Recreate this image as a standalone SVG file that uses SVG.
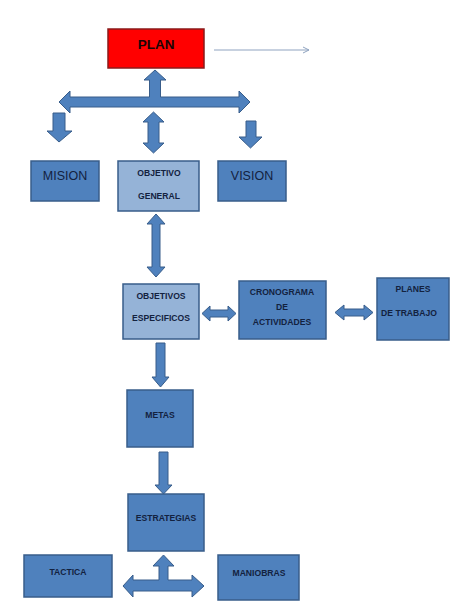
<svg xmlns="http://www.w3.org/2000/svg" width="474" height="612" viewBox="0 0 474 612">
<defs>
<marker id="thin" markerWidth="8" markerHeight="8" refX="7" refY="4" orient="auto" markerUnits="userSpaceOnUse">
<path d="M1,1 L7,4 L1,7" fill="none" stroke="#8fa3c0" stroke-width="1"/>
</marker>
</defs>
<style>
.box{fill:#4f81bd;stroke:#385d8a;stroke-width:1.5}
.lt{fill:#95b3d7;stroke:#385d8a;stroke-width:1.5}
.arr{fill:#4f81bd;stroke:#385d8a;stroke-width:1}
text{font-family:"Liberation Sans",Arial,sans-serif;fill:#13223f;text-anchor:middle;dominant-baseline:central}
.s{font-size:8.6px;font-weight:bold}
.m{font-size:12.5px}
</style>
<rect width="474" height="612" fill="#ffffff"/>
<g id="connectors">
<line x1="214" y1="50" x2="309" y2="50" stroke="#8fa3c0" stroke-width="1" marker-end="url(#thin)"/>
<path class="arr" d="M155,70 L166,80 L160.5,80 L160.5,97 L239,97 L239,91 L250,102 L239,113 L239,107 L70,107 L70,113 L59,102 L70,91 L70,97 L149.5,97 L149.5,80 L144,80 Z"/>
<path class="arr" d="M53,113 L65,113 L65,131 L72,131 L59,142 L47,131 L53,131 Z"/>
<path class="arr" d="M153.5,112 L164,122 L159,122 L159,143 L164,143 L153.5,153 L143,143 L148,143 L148,122 L143,122 Z"/>
<path class="arr" d="M246,121 L256,121 L256,137 L262,137 L250.5,148 L239,137 L246,137 Z"/>
<path class="arr" d="M156,214 L165,224 L160,224 L160,267 L165,267 L156,277 L147,267 L152,267 L152,224 L147,224 Z"/>
<path class="arr" d="M202,313.5 L210,306 L210,310 L228,310 L228,306 L236,313.5 L228,321 L228,317 L210,317 L210,321 Z"/>
<path class="arr" d="M335,312.5 L344,305 L344,309 L364,309 L364,305 L373,312.5 L364,320 L364,316 L344,316 L344,320 Z"/>
<path class="arr" d="M156,343 L165,343 L165,377 L169,377 L160.5,387 L152,377 L156,377 Z"/>
<path class="arr" d="M159,452 L168,452 L168,485 L172,485 L163.5,494 L155,485 L159,485 Z"/>
<path class="arr" d="M163.5,555 L174,566 L168,566 L168,580 L192,580 L192,575 L204,586 L192,597 L192,591 L133,591 L133,597 L123,586 L133,575 L133,580 L159,580 L159,566 L153,566 Z"/>
</g>
<g id="plan">
<rect x="108" y="29" width="96" height="39" fill="#ff0000" stroke="#8b1a1a" stroke-width="1.5"/>
<text x="156" y="44" style="font-size:13.5px;font-weight:bold;fill:#1a0505">PLAN</text>
</g>
<g id="mision">
<rect class="box" x="31" y="161" width="68" height="40"/>
<text class="m" x="65" y="176">MISION</text>
</g>
<g id="objetivo-general">
<rect class="lt" x="118" y="161" width="81" height="50"/>
<text class="s" x="159" y="173">OBJETIVO</text>
<text class="s" x="159" y="196">GENERAL</text>
</g>
<g id="vision">
<rect class="box" x="218" y="161" width="68" height="40"/>
<text class="m" x="252" y="176">VISION</text>
</g>
<g id="objetivos-especificos">
<rect class="lt" x="123" y="284" width="76" height="55"/>
<text class="s" x="161" y="296">OBJETIVOS</text>
<text class="s" x="161" y="318">ESPECIFICOS</text>
</g>
<g id="cronograma">
<rect class="box" x="239" y="281" width="87" height="58"/>
<text class="s" x="282" y="292">CRONOGRAMA</text>
<text class="s" x="282" y="307">DE</text>
<text class="s" x="282" y="322">ACTIVIDADES</text>
</g>
<g id="planes">
<rect class="box" x="377" y="278" width="72" height="62"/>
<text class="s" x="413" y="289">PLANES</text>
<text class="s" x="409" y="313">DE TRABAJO</text>
</g>
<g id="metas">
<rect class="box" x="127" y="390" width="66" height="57"/>
<text class="s" x="160" y="415">METAS</text>
</g>
<g id="estrategias">
<rect class="box" x="128" y="494" width="76" height="57"/>
<text class="s" x="166" y="518">ESTRATEGIAS</text>
</g>
<g id="tactica">
<rect class="box" x="24" y="555" width="88" height="42"/>
<text class="s" x="68" y="572">TACTICA</text>
</g>
<g id="maniobras">
<rect class="box" x="218" y="555" width="81" height="45"/>
<text class="s" x="259" y="573">MANIOBRAS</text>
</g>
</svg>
